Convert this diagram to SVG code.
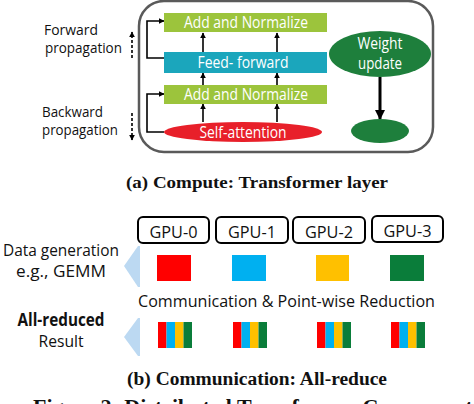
<svg xmlns="http://www.w3.org/2000/svg" width="474" height="404" viewBox="0 0 474 404">
<defs>
<style>
.t{font-family:"Open Sans","Liberation Sans",sans-serif;}
.w{fill:#fff;font-size:16px;text-anchor:middle;}
.k{fill:#111;}
.cap{font-family:"Liberation Serif","DejaVu Serif",serif;font-weight:bold;fill:#111;}
.ln{stroke:#000;stroke-width:1.6;fill:none;}
.gpu{fill:#fff;stroke:#000;stroke-width:2;}
</style>
<marker id="ah" viewBox="0 0 10 10" refX="9" refY="5" markerWidth="6" markerHeight="6" markerUnits="userSpaceOnUse" orient="auto"><path d="M0,0 L10,5 L0,10 z" fill="#000"/></marker>
<marker id="ahb" viewBox="0 0 10 10" refX="9" refY="5" markerWidth="10" markerHeight="10" markerUnits="userSpaceOnUse" orient="auto"><path d="M0,0 L10,5 L0,10 z" fill="#000"/></marker>
<g id="stripes">
<rect x="0" y="0" width="8.5" height="26" fill="#ff0000"/>
<rect x="8.5" y="0" width="8.5" height="26" fill="#00b0f0"/>
<rect x="17" y="0" width="8.5" height="26" fill="#ffc000"/>
<rect x="25.5" y="0" width="8.5" height="26" fill="#0a7d3a"/>
</g>
</defs>
<rect x="0" y="0" width="474" height="404" fill="#fff"/>

<g id="layer-frame"><rect x="139" y="1" width="294" height="151" rx="25" fill="#fff" stroke="#5a5a5a" stroke-width="2.5"/></g>

<g id="connectors">
<line class="ln" x1="203" y1="52" x2="203" y2="33" marker-end="url(#ah)"/>
<line class="ln" x1="277" y1="52" x2="277" y2="33" marker-end="url(#ah)"/>
<line class="ln" x1="203" y1="85" x2="203" y2="73" marker-end="url(#ah)"/>
<line class="ln" x1="277" y1="85" x2="277" y2="73" marker-end="url(#ah)"/>
<line class="ln" x1="203" y1="122" x2="203" y2="104" marker-end="url(#ah)"/>
<line class="ln" x1="277" y1="122" x2="277" y2="104" marker-end="url(#ah)"/>
<polyline class="ln" points="164,58 147,58 147,21 164,21" marker-end="url(#ah)"/>
<polyline class="ln" points="164,132 147,132 147,94 164,94" marker-end="url(#ah)"/>
<line x1="380" y1="77" x2="380" y2="119" stroke="#000" stroke-width="3" marker-end="url(#ahb)"/>
<line x1="132" y1="58" x2="132" y2="32" stroke="#000" stroke-width="1.6" stroke-dasharray="3,2" marker-end="url(#ah)"/>
<line x1="132" y1="113" x2="132" y2="140" stroke="#000" stroke-width="1.6" stroke-dasharray="3,2" marker-end="url(#ah)"/>
</g>

<g id="add-norm-top"><rect x="164" y="13" width="163" height="19" fill="#9cc43c"/><text class="t w" x="246" y="28" textLength="124" lengthAdjust="spacingAndGlyphs">Add and Normalize</text></g>
<g id="feed-forward"><rect x="164" y="52" width="163" height="21" fill="#1ba6bc"/><text class="t w" x="243" y="67.5" textLength="91" lengthAdjust="spacingAndGlyphs">Feed- forward</text></g>
<g id="add-norm-bottom"><rect x="164" y="85" width="163" height="19" fill="#9cc43c"/><text class="t w" x="246" y="100" textLength="124" lengthAdjust="spacingAndGlyphs">Add and Normalize</text></g>
<g id="self-attention"><ellipse cx="243" cy="132" rx="79" ry="10" fill="#e8202a"/><text class="t w" x="243" y="137.5" textLength="87" lengthAdjust="spacingAndGlyphs">Self-attention</text></g>
<g id="weight-update"><ellipse cx="380" cy="54" rx="51" ry="23" fill="#1e7f3c"/><text class="t w" x="380" y="49" textLength="45" lengthAdjust="spacingAndGlyphs">Weight</text><text class="t w" x="380" y="69" textLength="44" lengthAdjust="spacingAndGlyphs">update</text></g>
<g id="weight-result"><ellipse cx="380" cy="131" rx="29" ry="12" fill="#1e7f3c"/></g>

<g id="prop-labels">
<text class="t k" x="44" y="35" font-size="14" textLength="54" lengthAdjust="spacingAndGlyphs">Forward</text>
<text class="t k" x="45" y="53" font-size="14" textLength="77" lengthAdjust="spacingAndGlyphs">propagation</text>
<text class="t k" x="42" y="117" font-size="14" textLength="61" lengthAdjust="spacingAndGlyphs">Backward</text>
<text class="t k" x="42" y="135" font-size="14" textLength="76" lengthAdjust="spacingAndGlyphs">propagation</text>
</g>

<text class="cap" x="126" y="188" font-size="17" textLength="262" lengthAdjust="spacingAndGlyphs">(a) Compute: Transformer layer</text>

<g id="gpu-0"><rect class="gpu" x="138" y="217" width="71" height="26" rx="5"/><text class="t k" x="173.5" y="238" font-size="16" text-anchor="middle" textLength="48" lengthAdjust="spacingAndGlyphs">GPU-0</text></g>
<g id="gpu-1"><rect class="gpu" x="216" y="217" width="72" height="26" rx="5"/><text class="t k" x="252" y="238" font-size="16" text-anchor="middle" textLength="48" lengthAdjust="spacingAndGlyphs">GPU-1</text></g>
<g id="gpu-2"><rect class="gpu" x="293" y="217" width="72" height="26" rx="5"/><text class="t k" x="329" y="238" font-size="16" text-anchor="middle" textLength="48" lengthAdjust="spacingAndGlyphs">GPU-2</text></g>
<g id="gpu-3"><rect class="gpu" x="372" y="216" width="71" height="26" rx="5"/><text class="t k" x="407.5" y="237" font-size="16" text-anchor="middle" textLength="48" lengthAdjust="spacingAndGlyphs">GPU-3</text></g>

<g id="data-blocks">
<rect x="157" y="255" width="34" height="26" fill="#ff0000"/>
<rect x="232" y="255" width="34" height="26" fill="#00b0f0"/>
<rect x="316" y="255" width="33" height="26" fill="#ffc000"/>
<rect x="390" y="255" width="34" height="26" fill="#0a7d3a"/>
</g>

<g id="reduced-blocks">
<use href="#stripes" x="158" y="322"/>
<use href="#stripes" x="233" y="322"/>
<use href="#stripes" x="317" y="322"/>
<use href="#stripes" x="391" y="322"/>
</g>

<g id="side-arrows">
<polygon points="124,266 138,246 140,246 140,287 138,287" fill="#bcd9f2"/>
<polygon points="124,337 138,318 140,318 140,356 138,356" fill="#bcd9f2"/>
</g>

<g id="comm-labels">
<text class="t k" x="61" y="256" font-size="17" text-anchor="middle" textLength="116" lengthAdjust="spacingAndGlyphs">Data generation</text>
<text class="t k" x="61" y="277" font-size="17" text-anchor="middle" textLength="90" lengthAdjust="spacingAndGlyphs">e.g., GEMM</text>
<text class="t k" x="61" y="326" font-size="17" font-weight="bold" text-anchor="middle" textLength="87" lengthAdjust="spacingAndGlyphs">All-reduced</text>
<text class="t k" x="61" y="347" font-size="17" text-anchor="middle" textLength="45" lengthAdjust="spacingAndGlyphs">Result</text>
<text class="t k" x="138" y="307" font-size="17" textLength="297" lengthAdjust="spacingAndGlyphs">Communication &amp; Point-wise Reduction</text>
</g>

<text class="cap" x="127" y="385" font-size="18" textLength="260" lengthAdjust="spacingAndGlyphs">(b) Communication: All-reduce</text>
<text class="cap" x="33" y="414" font-size="22">Figure 2: Distributed Transformer Components</text>
</svg>
